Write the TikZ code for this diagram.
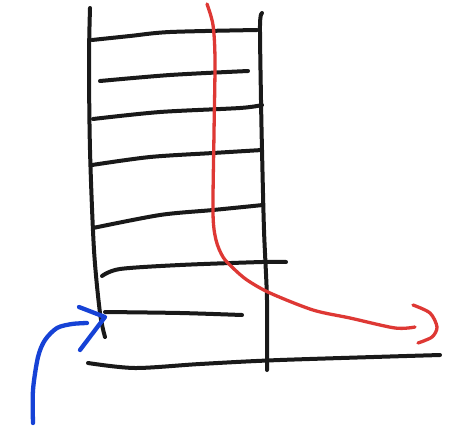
\documentclass[tikz,border=0pt]{standalone}
\begin{document}
\begin{tikzpicture}[x=1pt,y=-1pt,
  ink/.style={line width=4pt,line cap=round,line join=round},
  blk/.style={ink,black!90},
  redink/.style={ink,color={rgb,255:red,222;green,56;blue,52},line width=3.3pt},
  blueink/.style={ink,color={rgb,255:red,22;green,66;blue,214},line width=4.3pt}]
\useasboundingbox[fill=white] (0,0) rectangle (474,426);
% frame
\draw[blk] plot[smooth] coordinates {(90,8) (89,60) (90,150) (94,250) (100,313) (105,337)};
\draw[blk] plot[smooth] coordinates {(262,13) (260,25) (261,100) (262,150) (264,230) (267,300) (267,370)};
% rungs
\draw[blk] plot[smooth] coordinates {(92,40) (130,36) (170,32) (257,30)};
\draw[blk] plot[smooth] coordinates {(100,81) (170,75) (248,71)};
\draw[blk] plot[smooth] coordinates {(93,119) (160,112) (240,108) (262,105)};
\draw[blk] plot[smooth] coordinates {(92,165) (150,157) (213,153) (262,150)};
\draw[blk] plot[smooth] coordinates {(93,228) (160,215) (213,210) (263,205)};
\draw[blk] plot[smooth] coordinates {(102,276) (120,269) (180,265) (262,262) (286,262)};
\draw[blk] plot[smooth] coordinates {(105,312) (180,313) (242,315)};
\draw[blk] plot[smooth] coordinates {(88,363) (135,368) (200,364) (280,360) (440,355)};
% red path
\draw[redink] plot[smooth] coordinates {(207,4) (213,25) (215,60) (214,133) (213,213) (216,240) (223,257) (233,268) (247,280) (270,293) (313,310) (350,318) (395,328) (415,327)};
\draw[redink] plot[smooth] coordinates {(413,305) (430,313) (437,327) (432,337) (418,343)};
% blue arrow
\draw[blueink] plot[smooth] coordinates {(33,423) (33,390) (38,357) (45,340) (57,328) (72,324) (87,323)};
\draw[blueink] (79,307) -- (105,317) -- (80,350);
\end{tikzpicture}
\end{document}
